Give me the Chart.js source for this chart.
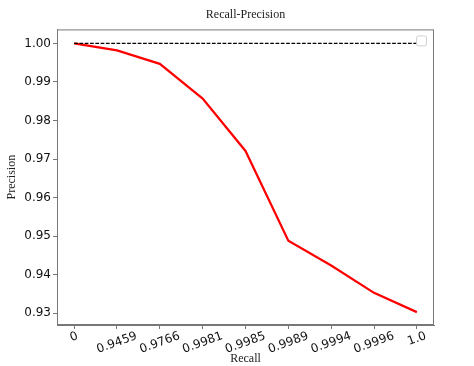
<!DOCTYPE html>
<html>
<head>
<meta charset="utf-8">
<script src="https://cdn.jsdelivr.net/npm/chart.js@4.4.1/dist/chart.umd.min.js"></script>
<style>
  html, body { margin: 0; padding: 0; background: #fff; }
</style>
</head>
<body>
<canvas id="myChart" width="474" height="366"></canvas>
<script>
// recall values used as category labels on the x axis
const recallLabels = ['0', '0.9459', '0.9766', '0.9981', '0.9985', '0.9989', '0.9994', '0.9996', '1.0'];
// precision
const precision = [1.0, 0.9982, 0.9947, 0.9857, 0.9721, 0.9488, 0.9424, 0.9353, 0.9303];
// dashed reference line at 1.0
const baseline = [1.0, 1.0, 1.0, 1.0, 1.0, 1.0, 1.0, 1.0, 1.0];
const yTicks = [0.93, 0.94, 0.95, 0.96, 0.97, 0.98, 0.99, 1.00];

const AXIS_GREY = '#777';
const LABEL_FONT = '"DejaVu Sans", sans-serif';
const SERIF = '"Liberation Serif", "DejaVu Serif", serif';

let myChart;

// x tick labels centred under the tick and rotated like matplotlib, plus frame and empty legend
const decorations = {
  id: 'decorations',
  afterDraw(chart) {
    const { ctx, chartArea, scales: { x } } = chart;
    ctx.save();
    ctx.strokeStyle = AXIS_GREY;
    ctx.lineWidth = 1;
    ctx.strokeRect(chartArea.left + 0.5, chartArea.top + 0.5,
                   chartArea.right - chartArea.left - 1, chartArea.bottom - chartArea.top - 1);

    // empty legend box
    ctx.strokeStyle = '#d0d0d0';
    ctx.beginPath();
    ctx.roundRect(chartArea.right - 17.5, chartArea.top + 6.5, 10, 10, 2);
    ctx.stroke();

    ctx.font = '12px ' + LABEL_FONT;
    ctx.fillStyle = '#111';
    ctx.textAlign = 'center';
    ctx.textBaseline = 'middle';
    const a = 20 * Math.PI / 180;
    const top = chartArea.bottom + 5;
    recallLabels.forEach((lab, i) => {
      const w = ctx.measureText(lab).width;
      const cx = x.getPixelForValue(i);
      const cy = top + (w * Math.sin(a) + 12 * Math.cos(a)) / 2;
      ctx.save();
      ctx.translate(cx, cy);
      ctx.rotate(-a);
      ctx.fillText(lab, 0, 0);
      ctx.restore();
    });
    ctx.restore();
  }
};

const setup = () => {
  const context = document.getElementById('myChart').getContext('2d');

  myChart = new Chart(context, {
    type: 'line',
    data: {
      datasets: [{
        label: 'baseline',
        data: baseline.map((v, i) => ({ x: i, y: v })),
        borderColor: '#000',
        borderWidth: 1.2,
        borderDash: [3.7, 1.6],
        pointRadius: 0,
        order: 0
      }, {
        label: 'precision',
        data: precision.map((v, i) => ({ x: i, y: v })),
        borderColor: '#f00',
        borderWidth: 2.2,
        pointRadius: 0,
        tension: 0,
        order: 1
      }]
    },
    options: {
      responsive: false,
      animation: false,
      devicePixelRatio: 1,
      layout: { padding: { left: 0, right: 40, top: 0, bottom: 0 } },
      plugins: {
        legend: { display: false },
        tooltip: { enabled: false },
        title: {
          display: true,
          text: 'Recall-Precision',
          fullSize: false,
          color: '#222',
          font: { family: SERIF, size: 12, weight: 'normal' },
          padding: { top: 8, bottom: 7 }
        }
      },
      scales: {
        x: {
          type: 'linear',
          min: -0.4,
          max: 8.4,
          afterBuildTicks: scale => { scale.ticks = recallLabels.map((_, i) => ({ value: i })); },
          afterFit: scale => { scale.height = 41; },
          ticks: { display: false },
          grid: { display: true, drawOnChartArea: false, tickLength: 4, color: AXIS_GREY },
          border: { color: AXIS_GREY },
          title: {
            display: true,
            text: 'Recall',
            color: '#222',
            font: { family: SERIF, size: 12 },
            padding: { top: 0, bottom: 0 }
          }
        },
        y: {
          min: 0.92696,
          max: 1.00363,
          afterBuildTicks: scale => { scale.ticks = yTicks.map(v => ({ value: v })); },
          afterFit: scale => { scale.width = 57; },
          ticks: {
            color: '#111',
            font: { family: LABEL_FONT, size: 12 },
            padding: 2,
            callback: v => v.toFixed(2)
          },
          grid: { display: true, drawOnChartArea: false, tickLength: 4, color: AXIS_GREY },
          border: { color: AXIS_GREY },
          title: {
            display: true,
            text: 'Precision',
            color: '#222',
            font: { family: SERIF, size: 12 },
            padding: { top: 5, bottom: 0 }
          }
        }
      }
    },
    plugins: [decorations]
  });
};

window.addEventListener('DOMContentLoaded', setup);
</script>
</body>
</html>
